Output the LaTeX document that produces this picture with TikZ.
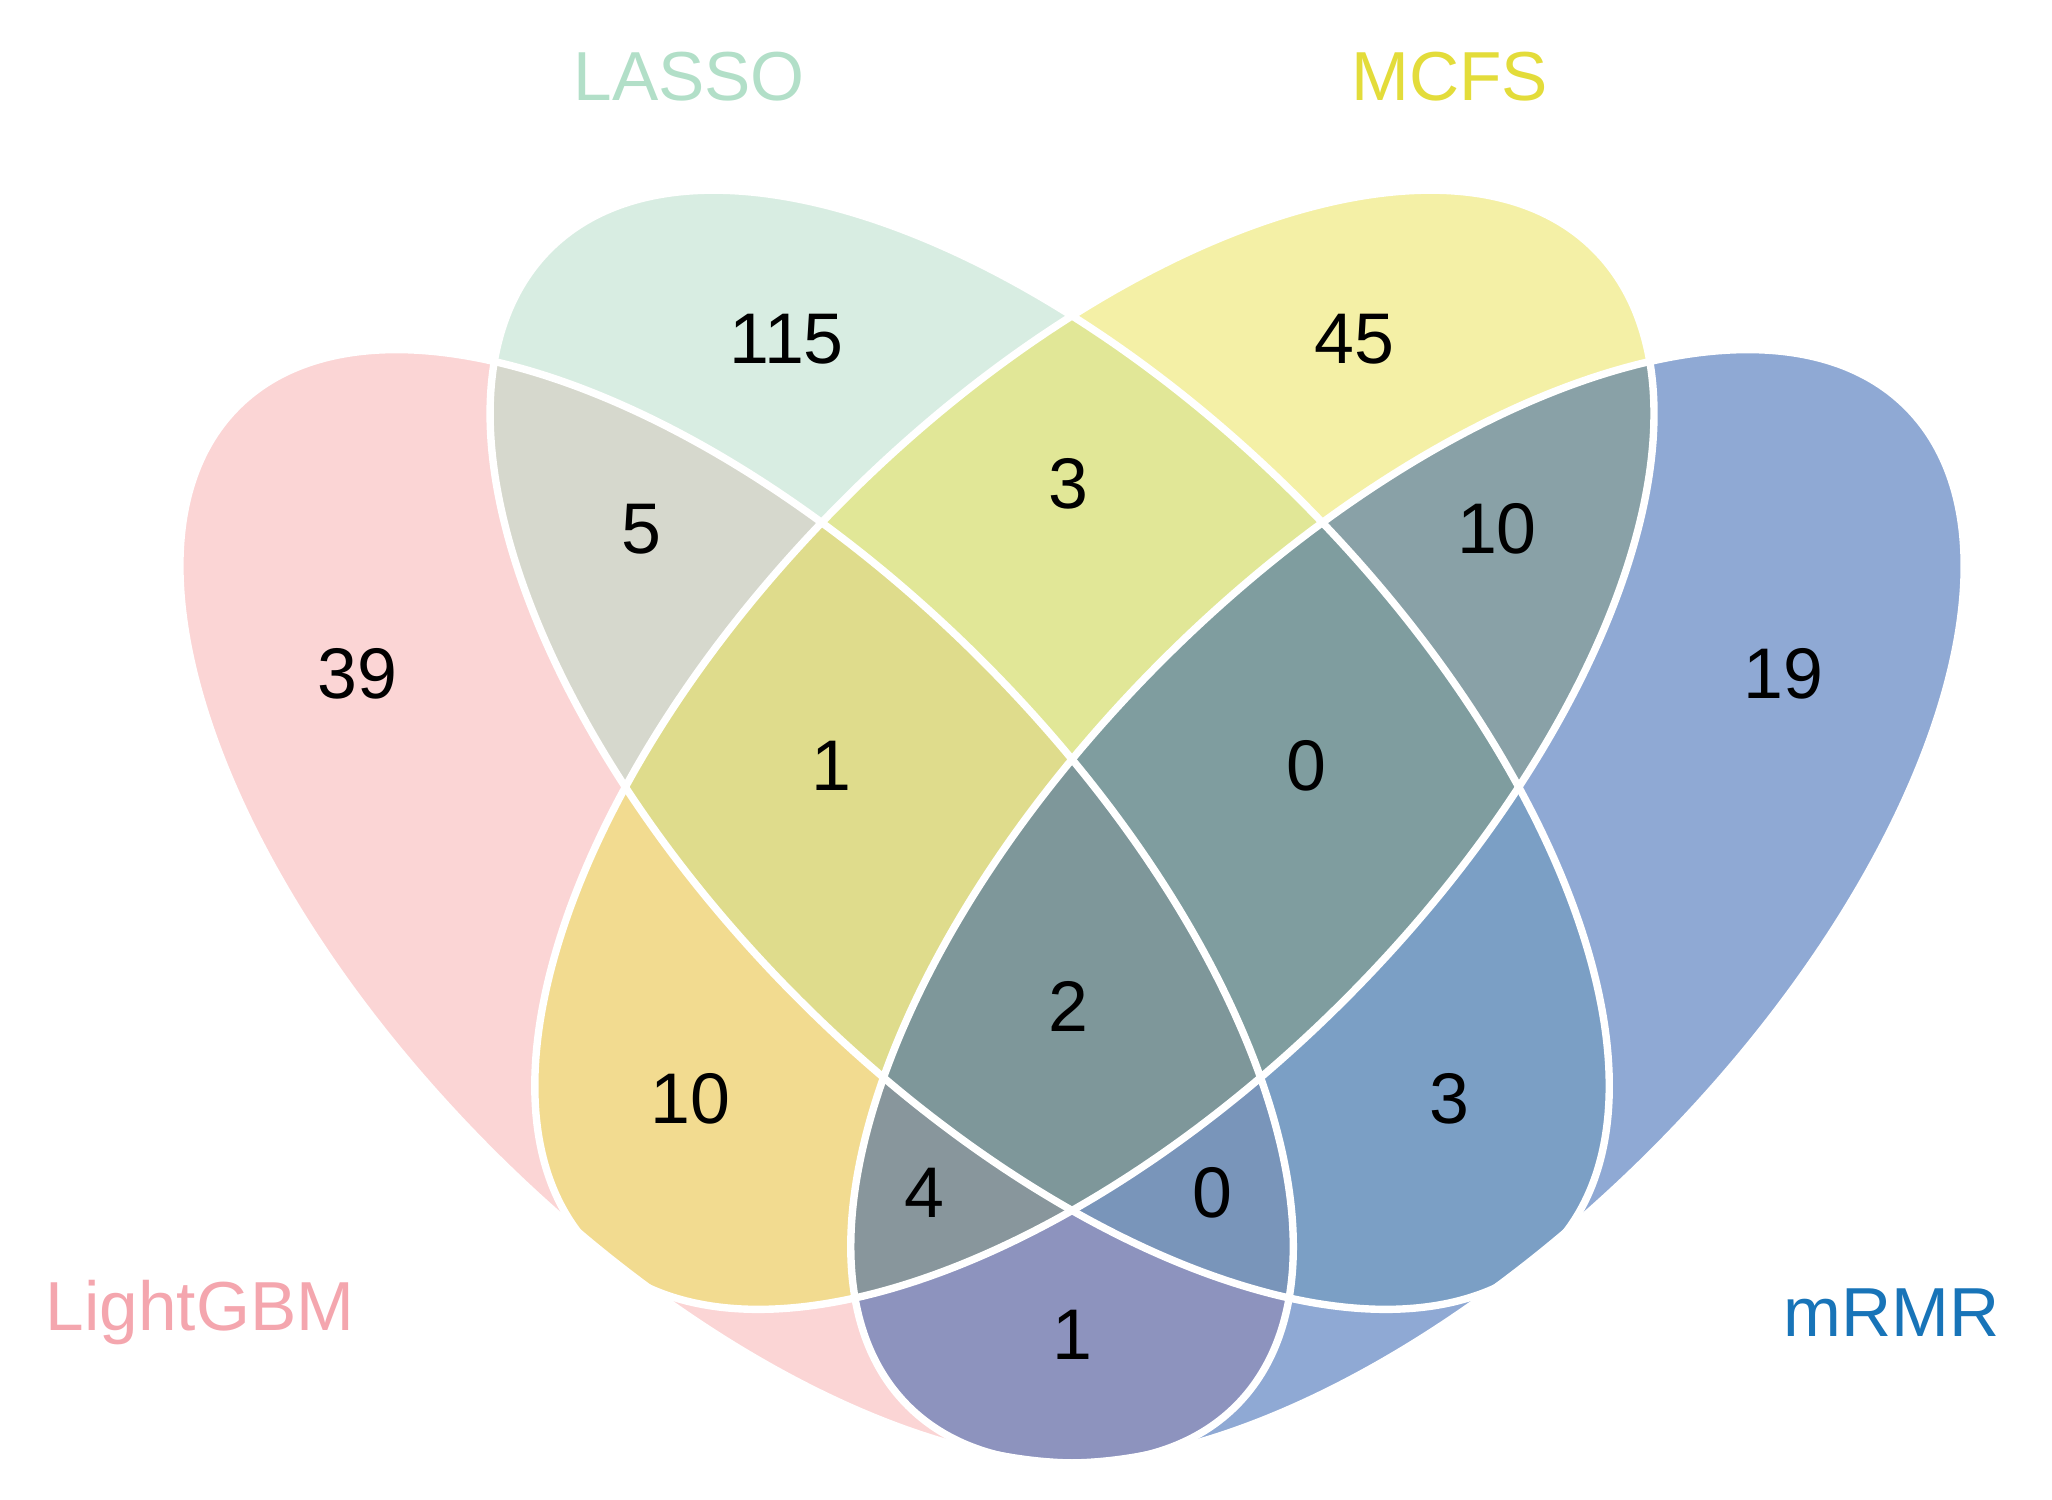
\documentclass[tikz,border=0pt]{standalone}
\usepackage{fontspec}
\setmainfont{Liberation Sans}
\definecolor{cpink}{HTML}{F7ABAB}
\definecolor{cgreen}{HTML}{B2DBC5}
\definecolor{cyellow}{HTML}{EAE14D}
\definecolor{cblue}{HTML}{1F53A9}
\definecolor{lpink}{HTML}{F4A6AE}
\definecolor{lgreen}{HTML}{B2DFC8}
\definecolor{lyellow}{HTML}{E3DC3A}
\definecolor{lblue}{HTML}{1874B8}
\begin{document}
\begin{tikzpicture}[x=0.01cm,y=-0.01cm,
  num/.style={font=\fontsize{15.5}{18}\selectfont,text=black},
  setlab/.style={font=\fontsize{15}{18}\selectfont},
  border/.style={draw=white,line width=1.6pt}]
\useasboundingbox (0,0) rectangle (1560,1140);
\fill[cpink,opacity=0.5] (560,689) ellipse [x radius=537,y radius=264,rotate=-45];
\fill[cgreen,opacity=0.5] (798,570) ellipse [x radius=538,y radius=269,rotate=-45];
\fill[cyellow,opacity=0.5] (832,570) ellipse [x radius=538,y radius=269,rotate=45];
\fill[cblue,opacity=0.5] (1070,689) ellipse [x radius=537,y radius=264,rotate=45];
\draw[border] (560,689) ellipse [x radius=537,y radius=264,rotate=-45];
\draw[border] (798,570) ellipse [x radius=538,y radius=269,rotate=-45];
\draw[border] (832,570) ellipse [x radius=538,y radius=269,rotate=45];
\draw[border] (1070,689) ellipse [x radius=537,y radius=264,rotate=45];
\node[num] (n1) at (272,512) {39};
\node[num] (n2) at (598,258) {115};
\node[num] (n3) at (488,402) {5};
\node[num] (n4) at (1030,258) {45};
\node[num] (n5) at (812,368) {3};
\node[num] (n6) at (632,582) {1};
\node[num] (n7) at (1138,402) {10};
\node[num] (n8) at (993,582) {0};
\node[num] (n9) at (1356,512) {19};
\node[num] (n10) at (525,835) {10};
\node[num] (n11) at (812,765) {2};
\node[num] (n12) at (703,907) {4};
\node[num] (n13) at (922,907) {0};
\node[num] (n14) at (1102,835) {3};
\node[num] (n15) at (815,1015) {1};
\node[setlab,text=lpink] (lg) at (152,998) {LightGBM};
\node[setlab,text=lgreen] (la) at (524,58) {LASSO};
\node[setlab,text=lyellow] (mc) at (1102,58) {MCFS};
\node[setlab,text=lblue] (mr) at (1438,998) {mRMR};
\end{tikzpicture}
\end{document}
